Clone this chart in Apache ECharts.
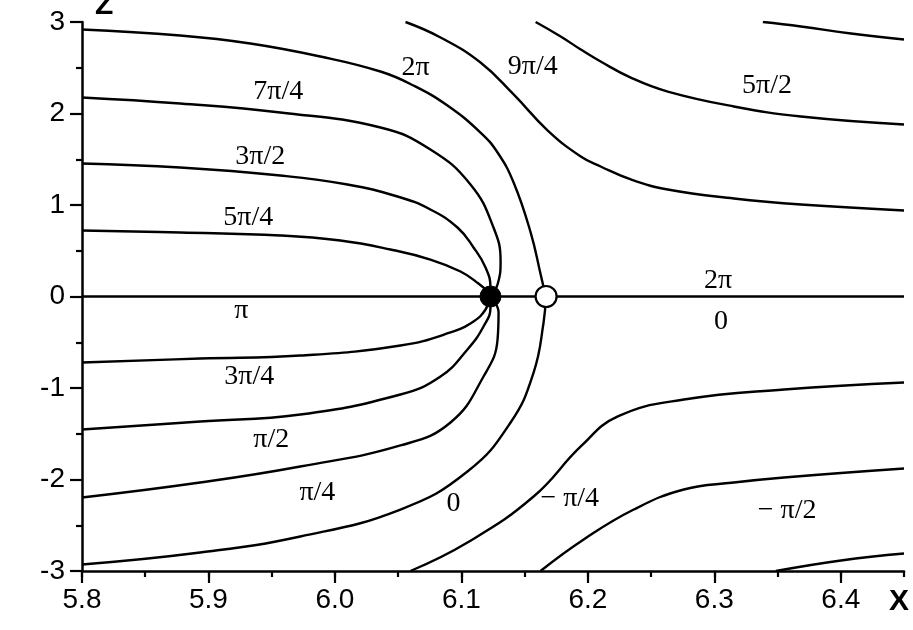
<!DOCTYPE html>
<html>
<head>
<meta charset="utf-8">
<script src="https://cdn.jsdelivr.net/npm/echarts@6/dist/echarts.min.js"></script>
<style>
html,body{margin:0;padding:0;background:#fff;}
#chart{width:913px;height:630px;}
</style>
</head>
<body>
<div id="chart"></div>
<script>
// ---- data (x, z) ----
const xTicks = [5.8, 5.9, 6.0, 6.1, 6.2, 6.3, 6.4];
const yTicks = [-3, -2, -1, 0, 1, 2, 3];

const curve5pi4 = [[5.8,0.721],[5.8776,0.699],[5.9568,0.667],[6.0043,0.612],[6.0439,0.514],[6.0755,0.404],[6.0993,0.273],[6.1135,0.142],[6.1215,0.044],[6.123,0]];
const curve3pi2 = [[5.8,1.454],[5.8776,1.410],[5.9568,1.322],[6.0099,1.224],[6.0495,1.093],[6.0755,0.951],[6.0969,0.754],[6.1096,0.536],[6.1191,0.317],[6.123,0.098],[6.123,0]];
const curve7pi4 = [[5.8,2.175],[5.8776,2.109],[5.9568,2.011],[6.0360,1.847],[6.0755,1.607],[6.1072,1.224],[6.1254,0.754],[6.1310,0.383],[6.1286,0.131],[6.123,0]];
const curve2piUp = [[5.8,2.918],[5.8776,2.852],[5.9331,2.765],[5.9885,2.623],[6.0360,2.459],[6.0621,2.306],[6.0890,2.087],[6.1151,1.792],[6.1286,1.574],[6.1413,1.246],[6.1548,0.699],[6.1627,0.240],[6.1667,0]];
const curve9pi4 = [[6.0558,3.0],[6.0835,2.831],[6.1151,2.557],[6.1413,2.208],[6.1683,1.814],[6.1944,1.530],[6.2101,1.421],[6.2340,1.279],[6.2632,1.169],[6.3155,1.071],[6.3685,1.005],[6.45,0.940]];
const curve5pi2 = [[6.1587,3.0],[6.1785,2.842],[6.1944,2.699],[6.2101,2.568],[6.2339,2.393],[6.2632,2.240],[6.3154,2.077],[6.3685,1.967],[6.45,1.880]];
const curve11pi4 = [[6.3384,3.0],[6.3685,2.951],[6.4081,2.874],[6.45,2.809]];

const curve3pi4 = [[5.8,-0.721],[5.8934,-0.678],[5.9726,-0.645],[6.0518,-0.536],[6.0914,-0.393],[6.1096,-0.273],[6.1191,-0.142],[6.123,0]];
const curvePi2 = [[5.8,-1.454],[5.8934,-1.366],[5.9726,-1.290],[6.0518,-1.071],[6.0835,-0.874],[6.1048,-0.579],[6.1175,-0.328],[6.123,-0.120],[6.123,0]];
const curvePi4 = [[5.8,-2.197],[5.8934,-2.033],[5.9726,-1.858],[6.0518,-1.628],[6.0914,-1.377],[6.1175,-0.874],[6.1286,-0.470],[6.1294,-0.175],[6.123,0]];
const curve0Low = [[5.8,-2.929],[5.8934,-2.798],[5.9726,-2.623],[6.0518,-2.328],[6.1048,-1.913],[6.1389,-1.377],[6.1571,-0.831],[6.1650,-0.284],[6.1667,0]];
const curveMpi4 = [[6.0597,-3.0],[6.1048,-2.689],[6.1571,-2.186],[6.1944,-1.639],[6.2237,-1.311],[6.2760,-1.126],[6.3552,-1.016],[6.45,-0.940]];
const curveMpi2 = [[6.1626,-3.0],[6.1967,-2.656],[6.2363,-2.328],[6.2759,-2.109],[6.3155,-2.033],[6.3551,-1.978],[6.45,-1.880]];
const curveM3pi4 = [[6.3487,-3.0],[6.4002,-2.885],[6.45,-2.809]];

const axisLine0 = [[5.8,0],[6.45,0]];

const singularPoint = [6.123, 0];
const openPoint = [6.167, 0];

const labelTexts = ['2π','9π/4','5π/2','7π/4','3π/2','5π/4','π','3π/4','π/2','π/4','0','− π/4','− π/2','2π','0'];
const labelX = [6.0637,6.1564,6.3417,5.9552,5.9410,5.9315,5.9259,5.9323,5.9497,5.9861,6.0938,6.1857,6.3576,6.3029,6.3053];
const labelZ = [2.503,2.514,2.306,2.240,1.530,0.863,-0.153,-0.874,-1.563,-2.142,-2.262,-2.208,-2.339,0.175,-0.273];

// ---- chart ----
const curves = [curve5pi4,curve3pi2,curve7pi4,curve2piUp,curve9pi4,curve5pi2,curve11pi4,
                curve3pi4,curvePi2,curvePi4,curve0Low,curveMpi4,curveMpi2,curveM3pi4,axisLine0];

const series = curves.map(d => ({
  type: 'line', data: d, smooth: 0.45, showSymbol: false, symbol: 'none',
  lineStyle: {color: '#000', width: 2.4, opacity: 1}, silent: true, animation: false, z: 2
}));

series.push({
  type: 'scatter', animation: false, silent: true, z: 5,
  data: [
    {value: singularPoint, symbolSize: 21, itemStyle: {color: '#000', borderColor: '#000', borderWidth: 1, opacity: 1}},
    {value: openPoint, symbolSize: 21, itemStyle: {color: '#fff', borderColor: '#000', borderWidth: 2.2, opacity: 1}}
  ]
});

series.push({
  type: 'scatter', animation: false, silent: true, z: 6,
  symbolSize: 1, itemStyle: {color: 'rgba(0,0,0,0)'},
  data: labelTexts.map((t, i) => ({name: t, value: [labelX[i], labelZ[i]]})),
  label: {show: true, position: 'inside', formatter: '{b}', color: '#000', opacity: 1,
          textBorderWidth: 0, fontFamily: 'Liberation Serif', fontSize: 28}
});

const chart = echarts.init(document.getElementById('chart'), null, {renderer: 'canvas'});
const axisFont = {color: '#000', fontFamily: 'Liberation Sans', fontSize: 28};
chart.setOption({
  animation: false,
  backgroundColor: '#fff',
  grid: {left: 82, right: 9, top: 22, bottom: 59},
  xAxis: [{
    type: 'value', min: 5.8, max: 6.45, interval: 0.1,
    axisLine: {show: true, onZero: false, lineStyle: {color: '#000', width: 2.5}},
    axisTick: {show: true, length: 12, lineStyle: {color: '#000', width: 2.2}},
    axisLabel: Object.assign({margin: 15, showMaxLabel: false,
      formatter: v => { const t = xTicks.find(k => Math.abs(k - v) < 1e-6); return t === undefined ? '' : t.toFixed(1); }}, axisFont),
    splitLine: {show: false}
  }, {
    type: 'value', min: 5.8, max: 6.45, interval: 0.05, position: 'bottom',
    axisLine: {show: false, onZero: false},
    axisTick: {show: true, length: 6, lineStyle: {color: '#000', width: 2.2}},
    axisLabel: {show: false}, splitLine: {show: false}
  }],
  yAxis: {
    type: 'value', min: -3, max: 3, interval: 1,
    axisLine: {show: true, onZero: false, lineStyle: {color: '#000', width: 2.5}},
    axisTick: {show: true, length: 12, lineStyle: {color: '#000', width: 2.2}},
    minorTick: {show: true, splitNumber: 2, length: 6, lineStyle: {color: '#000', width: 2.2}},
    axisLabel: Object.assign({margin: 17,
      formatter: v => { const t = yTicks.find(k => Math.abs(k - v) < 1e-6); return t === undefined ? '' : String(t); }}, axisFont),
    splitLine: {show: false}
  },
  graphic: [
    {type: 'text', left: 95, top: -9, style: {text: 'Z', fill: '#000', font: 'bold 30px "Liberation Sans"'}},
    {type: 'text', left: 889, top: 587, style: {text: 'X', fill: '#000', font: 'bold 30px "Liberation Sans"'}}
  ],
  series: series
});
</script>
</body>
</html>
